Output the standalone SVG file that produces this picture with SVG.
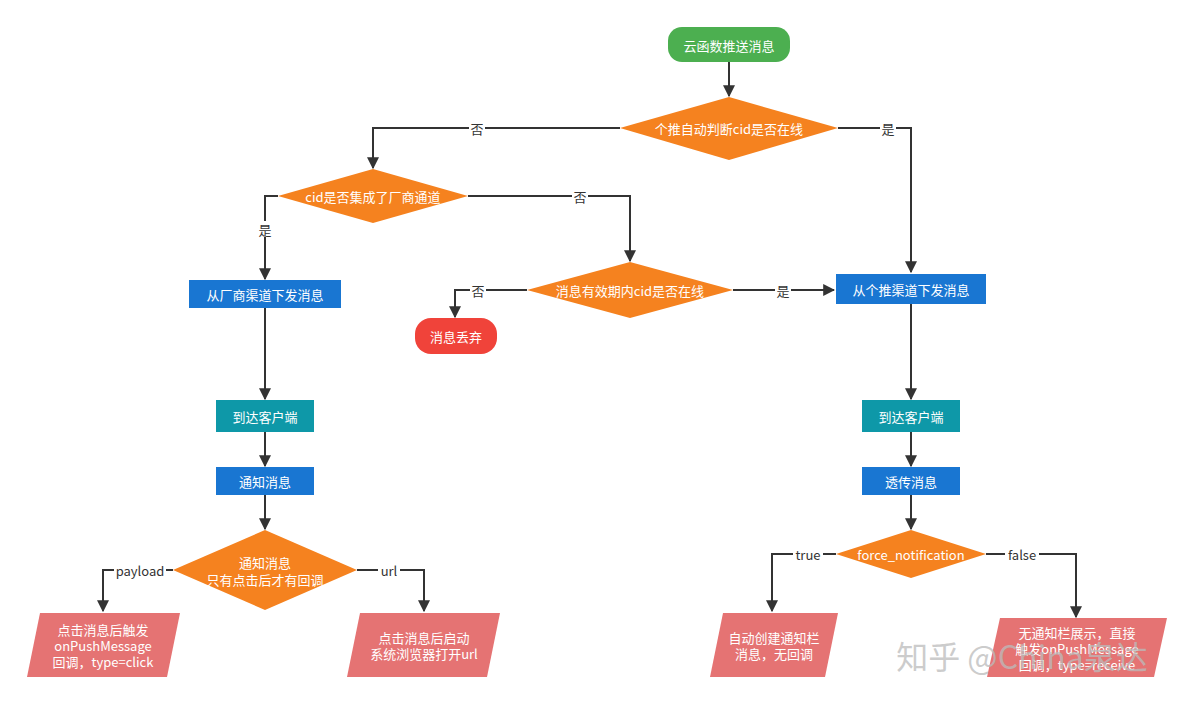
<svg xmlns="http://www.w3.org/2000/svg" width="1193" height="704" viewBox="0 0 1193 704">
<style>
text{font-family:"Noto Sans CJK SC","Liberation Sans",sans-serif;font-size:13px;text-anchor:middle;dominant-baseline:central}
.w{fill:#fff}
.l{fill:#333;font-size:13px}
.c{stroke:#333;stroke-width:2;fill:none;marker-end:url(#a)}
.lb{fill:#fff}
.d{fill:#F5821F}
.b{fill:#1976D2}
.t{fill:#0E98A8}
.p{fill:#E57373}
</style>
<defs><marker id="a" viewBox="0 0 10 10" refX="9" refY="5" markerWidth="6" markerHeight="6" orient="auto" markerUnits="strokeWidth"><path d="M0,0L10,5L0,10z" fill="#333"/></marker></defs>
<rect width="1193" height="704" fill="#fff"/>
<g id="connectors">
<path class="c" d="M729,62V96"/>
<path class="c" d="M620,128H373V168"/>
<path class="c" d="M838,128H911V272"/>
<path class="c" d="M278,196H265V279"/>
<path class="c" d="M468,196H630V261"/>
<path class="c" d="M527,290H455V317"/>
<path class="c" d="M733,290H834"/>
<path class="c" d="M265,308V399"/>
<path class="c" d="M265,432V466"/>
<path class="c" d="M265,495V529"/>
<path class="c" d="M173,570H103V611"/>
<path class="c" d="M357,570H424V611"/>
<path class="c" d="M911,304V399"/>
<path class="c" d="M911,432V466"/>
<path class="c" d="M911,495V529"/>
<path class="c" d="M836,554H772V611"/>
<path class="c" d="M986,554H1076V617"/>
<rect class="lb" x="469" y="120" width="16" height="16"/><text class="l" x="477" y="128">否</text>
<rect class="lb" x="880" y="120" width="16" height="16"/><text class="l" x="888" y="128">是</text>
<rect class="lb" x="257" y="221" width="16" height="16"/><text class="l" x="265" y="229">是</text>
<rect class="lb" x="572" y="188" width="16" height="16"/><text class="l" x="580" y="196">否</text>
<rect class="lb" x="470" y="282" width="16" height="16"/><text class="l" x="478" y="290">否</text>
<rect class="lb" x="775" y="282" width="16" height="16"/><text class="l" x="783" y="290">是</text>
<rect class="lb" x="114" y="562" width="52" height="16"/><text class="l" x="140" y="570">payload</text>
<rect class="lb" x="378" y="562" width="22" height="16"/><text class="l" x="389" y="570">url</text>
<rect class="lb" x="793" y="546" width="30" height="16"/><text class="l" x="808" y="554">true</text>
<rect class="lb" x="1005" y="546" width="34" height="16"/><text class="l" x="1022" y="554">false</text>
</g>
<g id="start"><rect x="668" y="27" width="122" height="35" rx="14" fill="#4CAF50"/><text class="w" x="729" y="45">云函数推送消息</text></g>
<g id="d1"><path class="d" d="M729,97L838,128L729,160L620,128z"/><text class="w" x="729" y="128">个推自动判断cid是否在线</text></g>
<g id="d2"><path class="d" d="M373,169L468,196L373,223L278,196z"/><text class="w" x="373" y="196">cid是否集成了厂商通道</text></g>
<g id="vendor"><rect class="b" x="189" y="280" width="152" height="28"/><text class="w" x="265" y="294">从厂商渠道下发消息</text></g>
<g id="d3"><path class="d" d="M630,262L733,290L630,318L527,290z"/><text class="w" x="630" y="290">消息有效期内cid是否在线</text></g>
<g id="drop"><rect x="415" y="318" width="82" height="36" rx="16" fill="#F0433A"/><text class="w" x="456" y="336">消息丢弃</text></g>
<g id="getui"><rect class="b" x="836" y="274" width="150" height="30"/><text class="w" x="911" y="289">从个推渠道下发消息</text></g>
<g id="arrL"><rect class="t" x="216" y="400" width="98" height="32"/><text class="w" x="265" y="416">到达客户端</text></g>
<g id="notif"><rect class="b" x="216" y="467" width="98" height="28"/><text class="w" x="265" y="481">通知消息</text></g>
<g id="d4"><path class="d" d="M265,530L357,570L265,610L173,570z"/><text class="w" x="265" y="562">通知消息</text><text class="w" x="265" y="579">只有点击后才有回调</text></g>
<g id="pl"><path class="p" d="M40,613H180L167,677H27z"/><text class="w" x="103" y="629">点击消息后触发</text><text class="w" x="103" y="645">onPushMessage</text><text class="w" x="103" y="661">回调，type=click</text></g>
<g id="url"><path class="p" d="M360,613H500L487,677H347z"/><text class="w" x="424" y="637">点击消息后启动</text><text class="w" x="424" y="653">系统浏览器打开url</text></g>
<g id="arrR"><rect class="t" x="862" y="400" width="98" height="32"/><text class="w" x="911" y="416">到达客户端</text></g>
<g id="trans"><rect class="b" x="862" y="467" width="98" height="28"/><text class="w" x="911" y="481">透传消息</text></g>
<g id="d5"><path class="d" d="M911,530L986,554L911,578L836,554z"/><text class="w" x="911" y="554">force_notification</text></g>
<g id="auto"><path class="p" d="M723,613H838L825,677H710z"/><text class="w" x="774" y="637">自动创建通知栏</text><text class="w" x="774" y="653">消息，无回调</text></g>
<g id="recv"><path class="p" d="M1000,618H1167L1154,677H987z"/><text class="w" x="1077" y="632">无通知栏展示，直接</text><text class="w" x="1077" y="648">触发onPushMessage</text><text class="w" x="1077" y="664">回调，type=receive</text></g>
<text x="1022" y="655" style="font-size:32px;fill:#bbb;fill-opacity:0.75">知乎 @China泉达</text>
</svg>
